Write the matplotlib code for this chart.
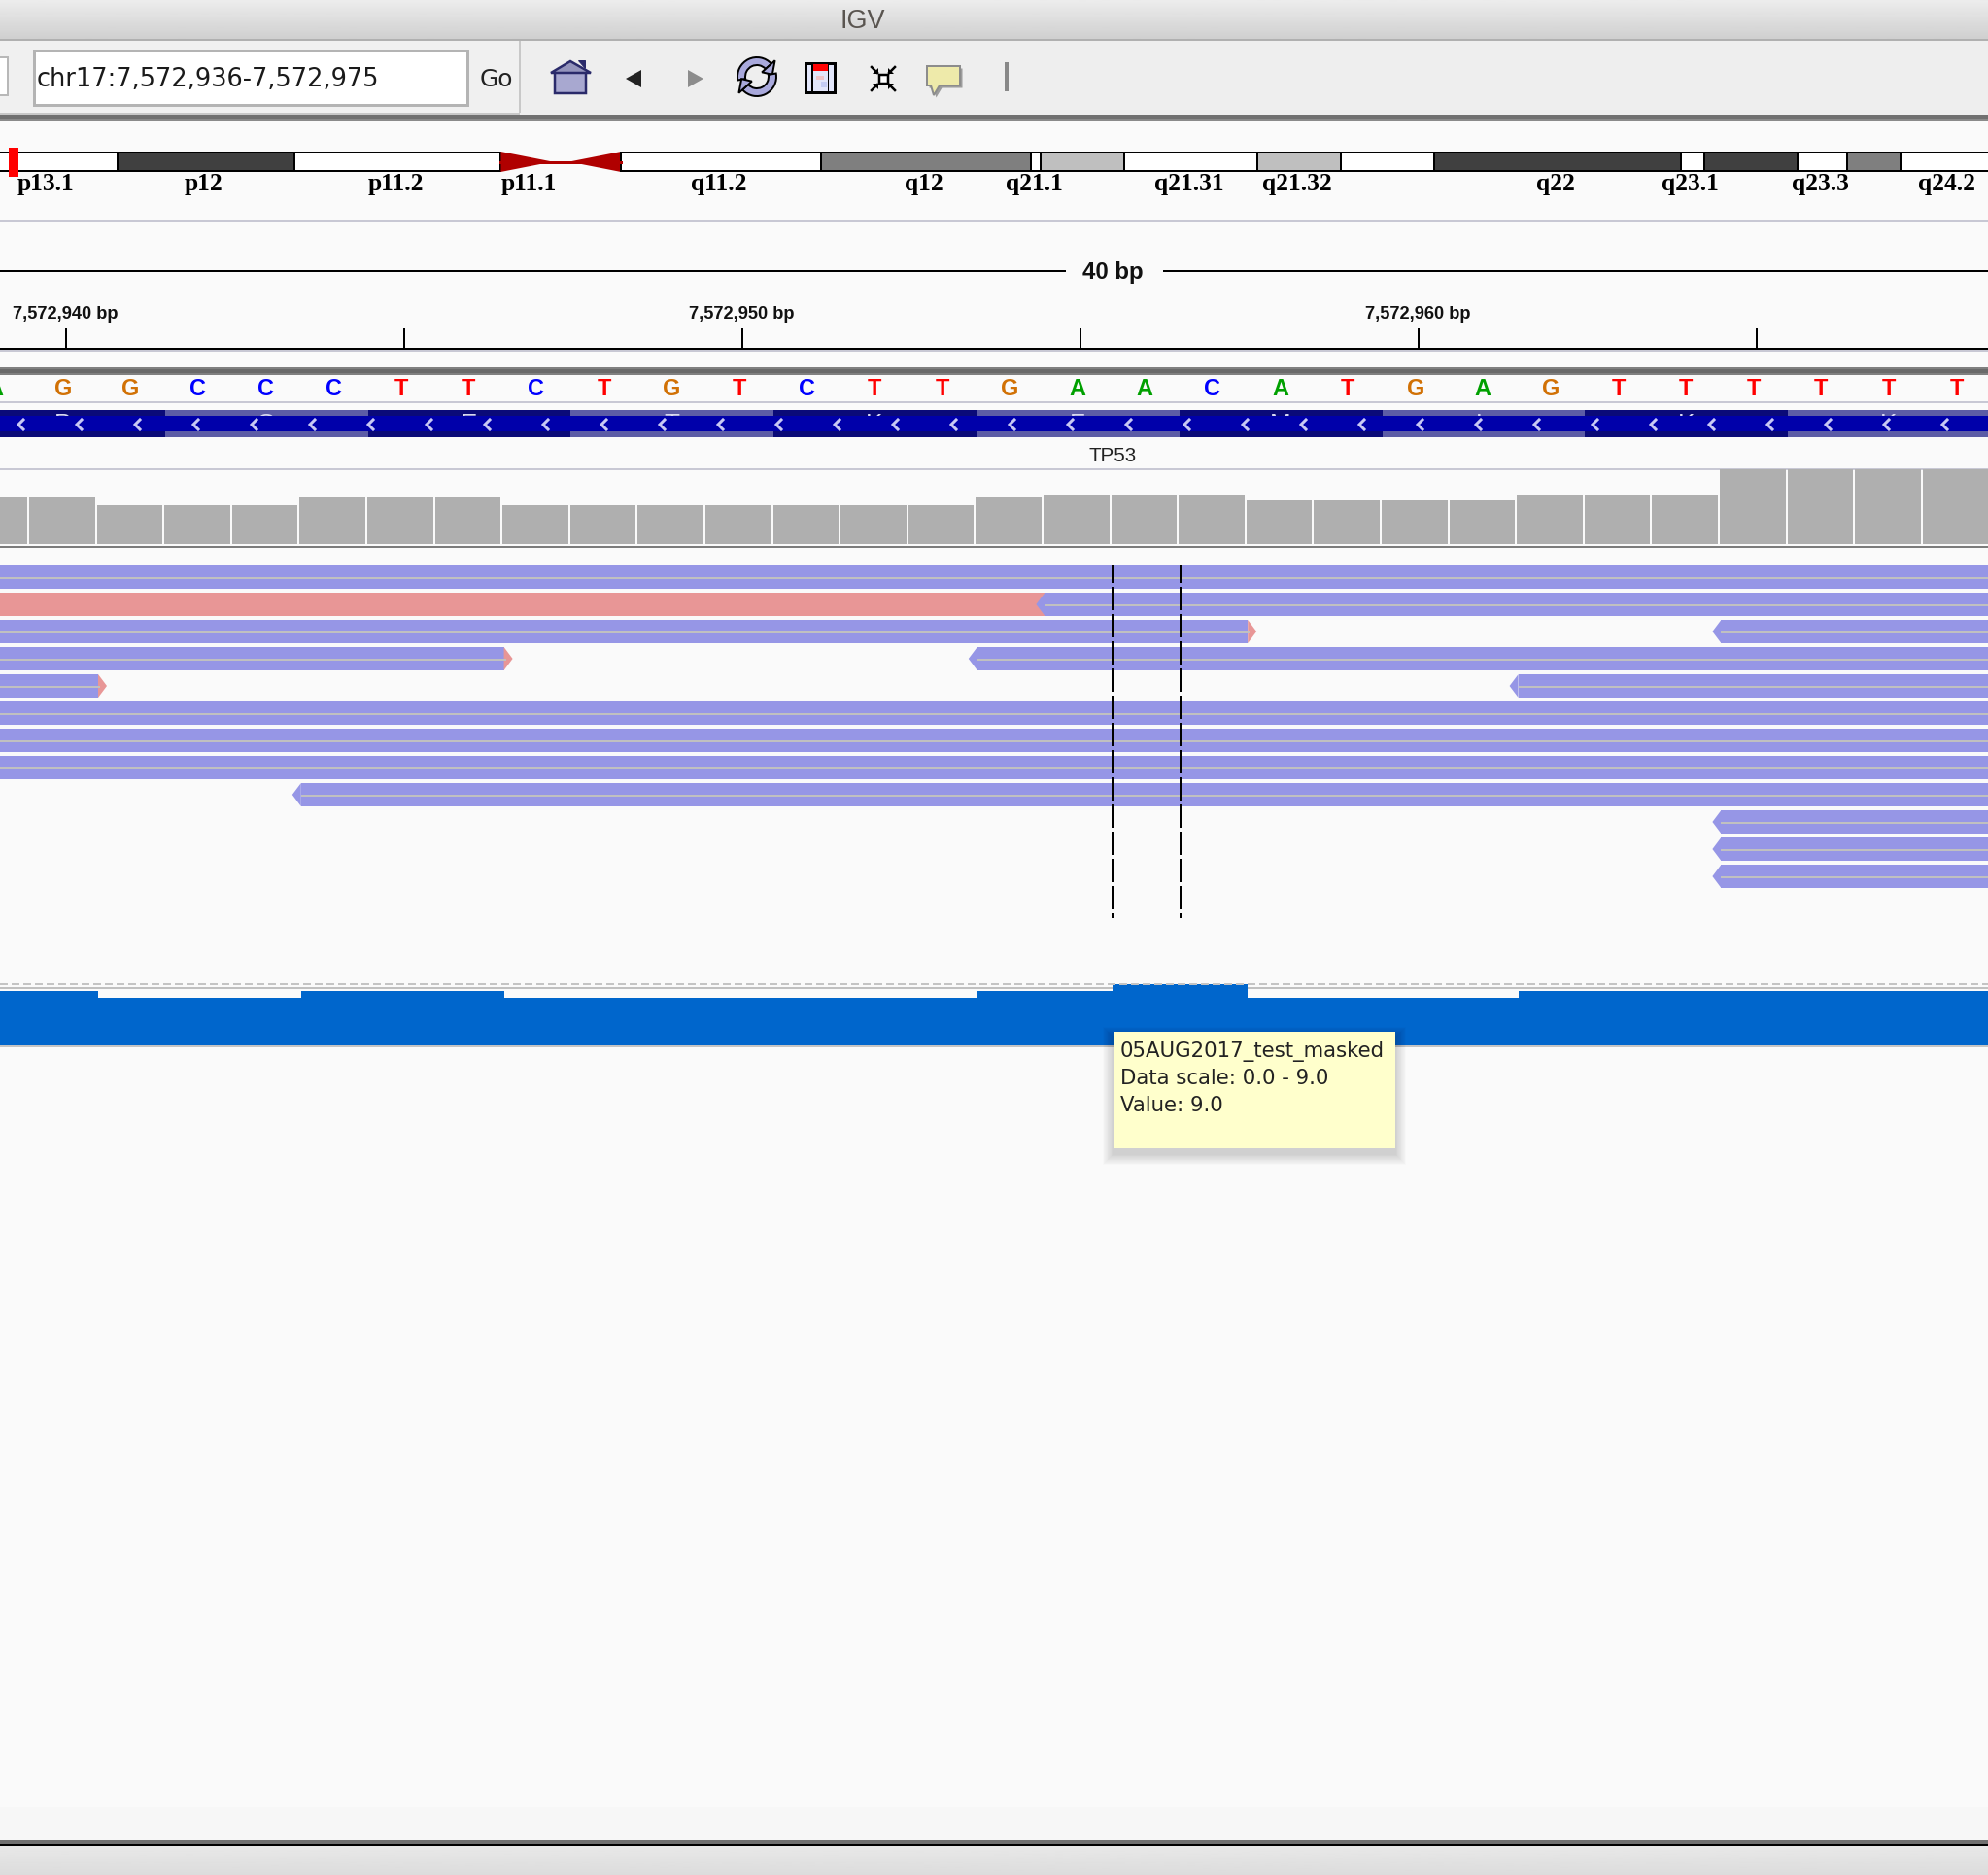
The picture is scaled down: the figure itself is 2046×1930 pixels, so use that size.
import numpy as np
import matplotlib
matplotlib.use('Agg')
import matplotlib.pyplot as plt
from matplotlib.patches import Rectangle, Polygon, Wedge

W, H = 2046, 1930
BG = '#fafafa'
BP_PX = 69.6
MB_PX = 34.3

locus = 'chr17:7,572,936-7,572,975'
window_label = '40 bp'
gene_name = 'TP53'

# ideogram, Mb
band_starts = [6.5, 10.7, 16.0, 22.2, 24.0, 25.8, 31.8, 38.1, 38.4, 40.9, 44.9, 47.4, 50.2, 57.6, 58.3, 61.1, 62.6, 64.2]
band_ends = [10.7, 16.0, 22.2, 24.0, 25.8, 31.8, 38.1, 38.4, 40.9, 44.9, 47.4, 50.2, 57.6, 58.3, 61.1, 62.6, 64.2, 67.1]
band_names = ['p13.1', 'p12', 'p11.2', 'p11.1', '', 'q11.2', 'q12', 'q21.1', '', 'q21.31', 'q21.32', '',
              'q22', 'q23.1', '', 'q23.3', '', 'q24.2']
band_stain = ['gneg', 'gpos75', 'gneg', 'acen', 'acen', 'gneg', 'gpos50', 'gneg', 'gpos25', 'gneg', 'gpos25', 'gneg',
              'gpos75', 'gneg', 'gpos75', 'gneg', 'gpos50', 'gneg']
current_mb = 7.57

# bases shown
first_base = 7572939
sequence = 'AGGCCCTTCTGTCTTGAACATGAGTTTTTT'
ruler_ticks = [7572940, 7572945, 7572950, 7572955, 7572960, 7572965]
ruler_labels = ['7,572,940 bp', '', '7,572,950 bp', '', '7,572,960 bp', '']

# codons of the gene, reverse strand
codon_starts = [7572939, 7572942, 7572945, 7572948, 7572951, 7572954, 7572957, 7572960, 7572963, 7572966]
amino_acids = ['P', 'G', 'E', 'T', 'K', 'F', 'M', 'L', 'K', 'K']

coverage = [7.5, 7.5, 6.2, 6.2, 6.2, 7.5, 7.5, 7.5, 6.2, 6.2, 6.2, 6.2, 6.2, 6.2, 6.2, 7.5, 7.8, 7.8, 7.8,
            7.0, 7.0, 7.0, 7.0, 7.8, 7.8, 7.8, 12, 12, 12, 12]

# alignments
read_row = [0, 1, 1, 2, 2, 3, 3, 4, 4, 5, 6, 7, 8, 9, 10, 11]
read_start = [7572900, 7572900, 7572955, 7572900, 7572965, 7572900, 7572954, 7572900, 7572962,
              7572900, 7572900, 7572900, 7572944, 7572965, 7572965, 7572965]
read_end = [7572990, 7572955, 7572990, 7572958, 7572990, 7572947, 7572990, 7572941, 7572990,
            7572990, 7572990, 7572990, 7572990, 7572990, 7572990, 7572990]
read_strand = ['', '', '<', '>', '<', '>', '<', '>', '<', '', '', '', '<', '<', '<', '<']
read_kind = ['plain', 'insert', 'plain', 'plain', 'plain', 'plain', 'plain', 'plain', 'plain',
             'plain', 'plain', 'plain', 'plain', 'plain', 'plain', 'plain']
center_lines = [7572956, 7572957]

# data track, value per base
track_values = [8, 8, 7, 7, 7, 8, 8, 8, 7, 7, 7, 7, 7, 7, 7, 8, 8, 9, 9, 7, 7, 7, 7, 8, 8, 8, 8, 8, 8, 8]
track_max = 9.0
tooltip_lines = ['05AUG2017_test_masked', 'Data scale: 0.0 - 9.0', 'Value: 9.0']

base_colors = {'A': '#00a000', 'C': '#0000ff', 'G': '#d17105', 'T': '#ff0000'}
stain_colors = {'gneg': '#ffffff', 'gpos25': '#bfbfbf', 'gpos50': '#7f7f7f', 'gpos75': '#404040'}
READ_BLUE = '#9696e6'
READ_PINK = '#e89696'


def px(n):
    # line width in points for n pixels
    return n * 0.72


def fs(n):
    return n * 0.72


fig = plt.figure(figsize=(W / 100, H / 100), dpi=100, facecolor=BG)

bp_left = first_base + 1 - 30 / BP_PX
bp_right = bp_left + W / BP_PX


def make_axes(top, bottom, xlim, ylim, z):
    a = fig.add_axes([0, 1 - bottom / H, 1, (bottom - top) / H], zorder=z)
    a.set_xlim(*xlim)
    a.set_ylim(*ylim)
    a.axis('off')
    a.patch.set_alpha(0)
    return a


ax = make_axes(0, H, (0, W), (H, 0), 1)
top = make_axes(0, H, (0, W), (H, 0), 6)


def box(a, x0, y0, x1, y1, color, **kw):
    a.add_patch(Rectangle((x0, y0), x1 - x0, y1 - y0, fc=color, ec=kw.pop('ec', 'none'), lw=kw.pop('lw', 0), **kw))


def gradient(y0, y1, c0, c1):
    g = np.linspace(c0, c1, 32).reshape(-1, 1)
    ax.imshow(g, extent=(0, W, y1, y0), aspect='auto', cmap='gray', vmin=0, vmax=255, zorder=0)
    ax.set_xlim(0, W)
    ax.set_ylim(H, 0)


# window chrome
gradient(0, 40, 236, 208)
box(ax, 0, 40, W, 42, '#b0b0b0')
box(ax, 0, 42, 535, 116, '#f0f0f0')
box(ax, 535, 42, W, 118, '#eeeeee')
box(ax, 0, 116, 535, 118, '#c8c8c8')
box(ax, 534, 42, 536, 116, '#c8c8c8')
box(ax, 0, 118, W, 122, '#707070')
box(ax, 0, 122, W, 125, '#8a8a8a')
ax.text(888, 22, 'IGV', ha='center', va='center', fontsize=fs(27), color='#5a5550', family='Liberation Sans')

box(ax, -6, 59, 8, 98, '#ffffff', ec='#b8b8b8', lw=px(2))
box(ax, 34.5, 52, 481, 108, '#ffffff', ec='#b4b4b4', lw=px(3))
ax.text(38, 82.5, locus, ha='left', va='center', fontsize=fs(25.6), color='#1a1a1a', family='DejaVu Sans')
ax.text(511, 82, 'Go', ha='center', va='center', fontsize=fs(25), color='#222222', family='DejaVu Sans')

# toolbar icons
ax.add_patch(Polygon([[595, 62], [602, 62], [602, 70]], fc='#2a2a6a', ec='#2a2a6a', lw=px(1)))
ax.add_patch(Rectangle((571, 74), 32, 22, fc='#a8a8d0', ec='#2a2a6a', lw=px(2.5)))
ax.add_patch(Polygon([[587, 63], [567, 75], [608, 75]], fc='#9494bc', ec='#2a2a6a', lw=px(2.5)))
ax.add_patch(Polygon([[644, 81], [660, 72], [660, 90]], fc='#222222', ec='none'))
ax.add_patch(Polygon([[724, 81], [708, 72], [708, 90]], fc='#8c8c8c', ec='none'))
for rot in [0, 180]:
    cx, cy = 779, 79
    ax.add_patch(Wedge((cx, cy), 20, 170 + rot, 318 + rot, width=8, fc='#a9a9dc', ec='black', lw=px(2)))
    ang = np.radians([318 + rot, 318 + rot, 352 + rot])
    rad = np.array([7, 25, 16])
    ax.add_patch(Polygon(np.c_[cx + rad * np.cos(ang), cy + rad * np.sin(ang)], fc='#a9a9dc', ec='black', lw=px(2)))
box(ax, 829, 65, 859, 95, '#e2e6fa', ec='black', lw=px(3))
box(ax, 836, 66, 852, 73, '#ff0000')
box(ax, 840, 78, 848, 82, '#f0c4c8')
box(ax, 845, 84, 851, 90, '#c4ccf4')
box(ax, 835, 65, 836.5, 95, 'black')
box(ax, 851.5, 65, 853, 95, 'black')
box(ax, 904.5, 76.5, 913.5, 85.5, '#ffffff', ec='black', lw=px(2.5))
for sx, sy in [(-1, -1), (1, -1), (-1, 1), (1, 1)]:
    ax.plot([909 + sx * 12, 909 + sx * 6], [81 + sy * 12, 81 + sy * 6], color='black', lw=px(2.5))
    ax.add_patch(Polygon([[909 + sx * 5, 81 + sy * 5], [909 + sx * 11, 81 + sy * 5], [909 + sx * 5, 81 + sy * 11]],
                         fc='black', ec='none'))
bubble = [[954, 68], [988, 68], [988, 88], [967, 88], [961, 98], [958, 88], [954, 88]]
ax.add_patch(Polygon(np.array(bubble) + 2.5, fc='#9c9c9c', ec='none'))
ax.add_patch(Polygon(bubble, fc='#eeeaaa', ec='#8c8c8c', lw=px(2)))
box(ax, 1034, 64, 1038, 94, '#888888')

# ideogram
ideo = make_axes(157, 176, (246 / MB_PX, (246 + W) / MB_PX), (1, 0), 2)
for s, e, stain, name in zip(band_starts, band_ends, band_stain, band_names):
    if stain == 'acen':
        # p arm side narrows to the right, q arm side to the left
        wide, tip = (s, e - 0.25) if name else (e, s + 0.25)
        ideo.add_patch(Polygon([[wide, -0.05], [tip, 0.5], [wide, 1.05]], fc='#b00000', ec='none', clip_on=False))
        ideo.plot([s, e], [0.5, 0.5], color='#b00000', lw=px(3))
    else:
        ideo.add_patch(Rectangle((s, 0), e - s, 1, fc=stain_colors[stain], ec='black', lw=px(2), clip_on=False))
    if name:
        xp = ((s + e) / 2) * MB_PX - 246 - 2
        ax.text(xp, 196, name, ha='center', va='baseline', fontsize=fs(25.5), fontweight='bold',
                family='Liberation Serif', color='black')
xp = current_mb * MB_PX - 246
box(top, xp - 5, 152, xp + 5, 182, '#ff0000')
box(ax, 0, 226, W, 228, '#c8c8d4')

# genome axes, y in pixels
g = make_axes(0, H, (bp_left, bp_right), (H, 0), 3)
box(ax, 0, 278, 1097, 280, 'black')
box(ax, 1197, 278, W, 280, 'black')
ax.text(1145, 281, window_label, ha='center', va='center', fontsize=fs(24), fontweight='bold',
        family='Liberation Sans', color='#111111')
for t, lab in zip(ruler_ticks, ruler_labels):
    g.plot([t + 0.54, t + 0.54], [338, 358], color='black', lw=px(2), solid_capstyle='butt')
    g.text(t + 0.53, 323.5, lab, ha='center', va='center', fontsize=fs(18.3), fontweight='bold',
           family='Liberation Sans', color='#111111')
box(ax, 0, 358, W, 360, 'black')
box(ax, 0, 360, W, 362, '#c8c8d4')

# sequence
box(ax, 0, 378, W, 380, '#808080')
box(ax, 0, 380, W, 384, '#6a6a6a')
box(ax, 0, 384, W, 386, '#808080')
for i, b in enumerate(sequence):
    g.text(first_base + i + 0.5, 407, b, ha='center', va='baseline', fontsize=fs(23.5), fontweight='bold',
           family='Liberation Sans', color=base_colors[b])
box(ax, 0, 412.5, W, 414.5, '#c8c8d4')

# gene
for i, (c, aa) in enumerate(zip(codon_starts, amino_acids)):
    color = '#0a0a78' if i % 2 == 0 else '#5c5ca6'
    g.add_patch(Rectangle((c + 0.01, 422), 3, 28, fc=color, ec='none', zorder=1))
    g.text(c + 1.5, 443.5, aa, ha='center', va='baseline', fontsize=fs(26), color='#d8d8f0',
           family='Liberation Sans', zorder=2, clip_on=True)
g.add_patch(Rectangle((bp_left, 428), bp_right - bp_left, 16, fc='#0000aa', ec='none', zorder=3))
for x in np.arange(21, W, 60):
    top.plot([x + 3, x - 2, x + 3], [432, 437, 442], color='#c8c8f4', lw=px(3), solid_joinstyle='miter')
ax.text(1145, 469.5, gene_name, ha='center', va='center', fontsize=fs(20.5), color='#222222',
        family='Liberation Sans')
box(ax, 0, 482, W, 484, '#c8c8d4')

# coverage
cov = make_axes(483.5, 560, (bp_left, bp_right), (0, 12), 3)
cov.bar(first_base + np.arange(len(coverage)), coverage, width=0.972, align='edge', color='#afafaf', lw=0)
box(ax, 0, 561.5, W, 563.5, '#7c7c7c')

# reads, one unit per row
rd = make_axes(582, 946, (bp_left, bp_right), (13, 0), 3)
ROW_H = 24 / 28
TIP = 9 / BP_PX
SHIFT = 0.02
for row, s, e, strand, kind in zip(read_row, read_start, read_end, read_strand, read_kind):
    s, e = s + SHIFT, e + SHIFT
    color = READ_PINK if kind == 'insert' else READ_BLUE
    rd.add_patch(Rectangle((s, row), e - s, ROW_H, fc=color, ec='none', zorder=2))
    if strand == '<':
        rd.add_patch(Polygon([[s, row], [s - TIP, row + ROW_H / 2], [s, row + ROW_H]], fc=color, ec='none', zorder=3))
    if strand == '>':
        rd.add_patch(Polygon([[e, row], [e + TIP, row + ROW_H / 2], [e, row + ROW_H]], fc=READ_PINK, ec='none', zorder=3))
    if kind == 'plain':
        rd.plot([s, e + (2 / BP_PX if strand == '>' else 0)], [row + 0.455, row + 0.455], color='#c0c0c0', lw=px(2),
                solid_capstyle='butt', zorder=4)
for c in center_lines:
    rd.plot([c + 0.022, c + 0.022], [0, 12.96], color='black', lw=px(2), linestyle=(3, (12, 2)),
            dash_capstyle='butt', zorder=5)

# data track
box(ax, 0, 1016, W, 1018, '#c0c0c0')
trk = make_axes(1013, 1076, (bp_left, bp_right), (0, track_max), 3)
trk.bar(first_base + np.arange(len(track_values)) + 0.02, track_values, width=1.0, align='edge', color='#0066cc', lw=0)
box(ax, 0, 1076, W, 1078, '#c4c4c4')
top.plot([0, W], [1013, 1013], color='#c4c4c4', lw=px(2), linestyle=(0, (4, 2)), dash_capstyle='butt')

# bottom
box(ax, 0, 1860, W, 1894, '#f7f7f7')
box(ax, 0, 1894, W, 1898, '#707070')
box(ax, 0, 1898, W, 1900, '#000000')
gradient(1900, H, 232, 220)

# tooltip with a soft shadow
for k in range(14, 0, -1):
    top.add_patch(Rectangle((1146 - k * 0.8, 1062 + 6 - k * 0.8), 290 + 1.6 * k, 120 + 1.6 * k, fc='black', ec='none',
                            alpha=0.012))
box(top, 1146, 1062, 1436, 1182, '#ffffcc')
for i, line in enumerate(tooltip_lines):
    top.text(1153, 1082.5 + i * 27.5, line, ha='left', va='center', fontsize=fs(21.3), color='#222222',
             family='DejaVu Sans')

fig.savefig('out.png', dpi=100, facecolor=BG)
